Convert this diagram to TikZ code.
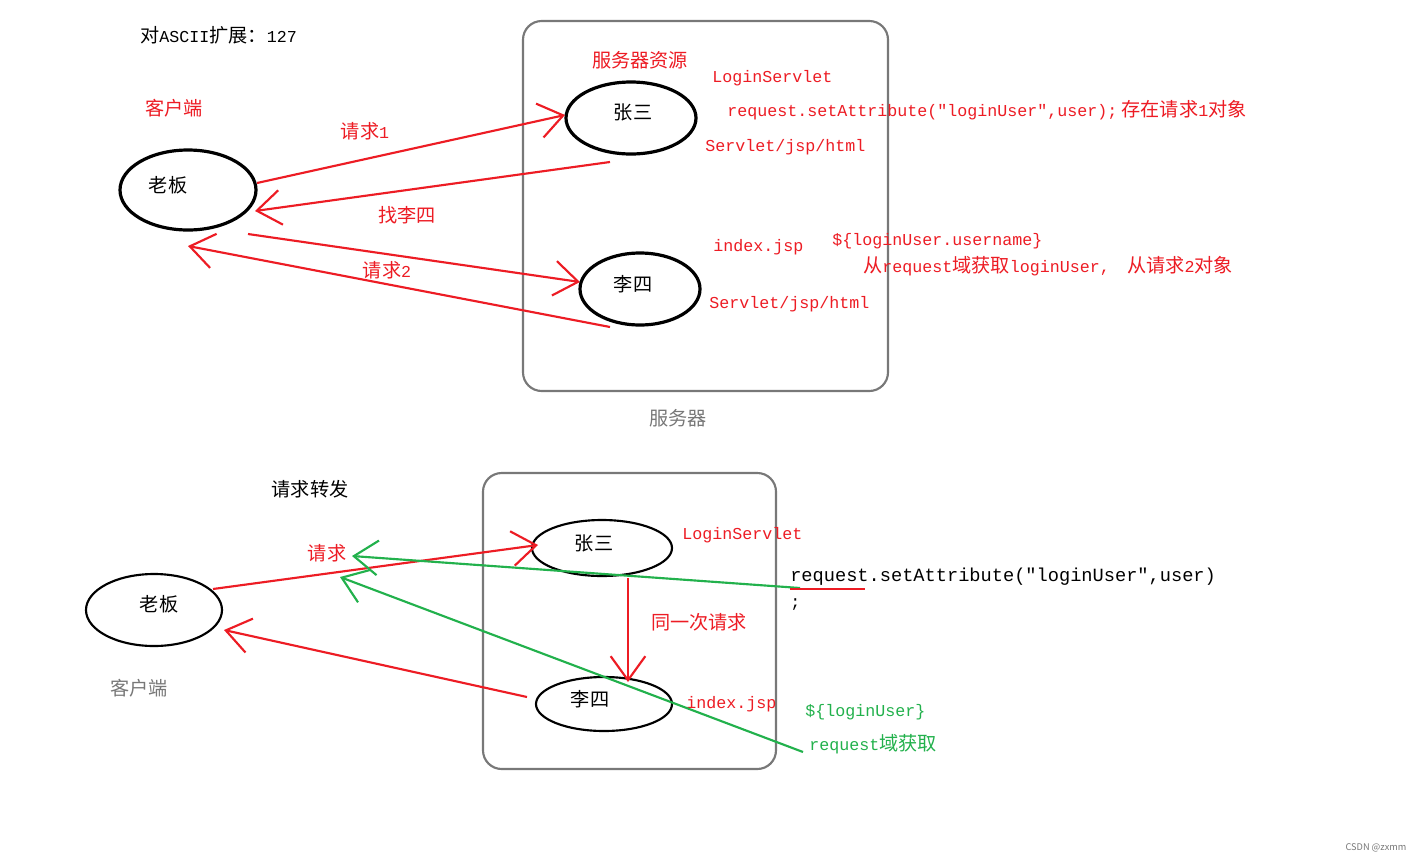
\documentclass[tikz,border=0pt]{standalone}
\usepackage{fontspec}
\setmainfont[Scale=1.15]{Noto Sans CJK SC}
\newfontfamily\lm{Liberation Mono}
\newcommand{\lt}[1]{{\lm #1}}
\usetikzlibrary{arrows.meta}
\definecolor{rd}{RGB}{237,28,36}
\definecolor{gn}{RGB}{34,177,76}
\definecolor{gy}{RGB}{120,120,120}
\tikzset{
 lbl/.style={font=\fontsize{12.5}{14}\selectfont,inner sep=0pt},
 rl/.style={lbl,text=rd},
 ar/.style={draw=rd,line width=1.6pt,-{Straight Barb[length=18pt,width=26pt,line width=1.6pt]}},
 ga/.style={draw=gn,line width=1.6pt,-{Straight Barb[length=18pt,width=26pt,line width=1.6pt]}},
 box/.style={draw=gy,line width=1.6pt,rounded corners=14pt}
}
\begin{document}
\begin{tikzpicture}[x=0.75pt,y=-0.75pt]
\useasboundingbox[fill=white] (0,0) rectangle (1421,861);
% top
\node[lbl,anchor=west] (t1) at (140,35) {对\lt{ASCII}扩展：\lt{127}};
\draw[box] (523,21) rectangle (888,391);
\node[rl] (res) at (640,60) {服务器资源};
\node[rl,anchor=west] (ls1) at (712,78) {\lt{LoginServlet}};
\draw[line width=2.4pt] (631,118) ellipse [x radius=65,y radius=36];
\node[lbl] (zs1) at (633,112) {张三};
\node[rl,anchor=west] (rq1) at (727,110) {\lt{request.setAttribute("loginUser",user);} 存在请求\lt{1}对象};
\node[rl,anchor=west] (sv1) at (705,147) {\lt{Servlet/jsp/html}};
\node[rl] (kh1) at (174,108) {客户端};
\draw[line width=2.4pt] (188,190) ellipse [x radius=68,y radius=40];
\node[lbl] (lb1) at (168,185) {老板};
\node[rl] (q1) at (365,131) {请求\lt{1}};
\coordinate (a1s) at (257,183); \coordinate (a1e) at (565,115);
\draw[ar] (a1s) -- (a1e);
\coordinate (a2s) at (610,162); \coordinate (a2e) at (255,211);
\draw[ar] (a2s) -- (a2e);
\node[rl] (zl) at (407,215) {找李四};
\coordinate (a3s) at (248,234); \coordinate (a3e) at (580,282);
\draw[ar] (a3s) -- (a3e);
\node[rl] (q2) at (387,270) {请求\lt{2}};
\coordinate (a4s) at (610,327); \coordinate (a4e) at (188,246);
\draw[ar] (a4s) -- (a4e);
\draw[line width=2.4pt] (640,289) ellipse [x radius=60,y radius=36];
\node[lbl] (ls) at (633,284) {李四};
\node[rl,anchor=west] (ij1) at (713,247) {\lt{index.jsp}};
\node[rl,anchor=west] (un) at (832,241) {\lt{\$\{loginUser.username\}}};
\node[rl,anchor=west] (fr) at (863,266) {从\lt{request}域获取\lt{loginUser,}\ \ \ \ 从请求\lt{2}对象};
\node[rl,anchor=west] (sv2) at (709,304) {\lt{Servlet/jsp/html}};
\node[lbl,text=gy] (fw1) at (678,418) {服务器};
% bottom
\node[lbl] (zf) at (310,489) {请求转发};
\draw[box] (483,473) rectangle (776,769);
\draw[line width=1.6pt] (602,548) ellipse [x radius=70,y radius=28];
\node[lbl] (zs2) at (594,543) {张三};
\node[rl,anchor=west] (ls2) at (682,535) {\lt{LoginServlet}};
\draw[line width=1.6pt] (604,704) ellipse [x radius=68,y radius=27];
\node[lbl] (li2) at (590,699) {李四};
\node[rl,anchor=west] (ij2) at (686,704) {\lt{index.jsp}};
\draw[line width=1.6pt] (154,610) ellipse [x radius=68,y radius=36];
\node[lbl] (lb2) at (159,604) {老板};
\node[lbl,text=gy] (kh2) at (139,688) {客户端};
\node[rl] (qq) at (327,553) {请求};
\coordinate (b1s) at (213,589); \coordinate (b1e) at (538,545);
\draw[ar] (b1s) -- (b1e);
\coordinate (b2s) at (628,578); \coordinate (b2e) at (628,682);
\draw[ar] (b2s) -- (b2e);
\node[rl] (ty) at (699,622) {同一次请求};
\coordinate (b3s) at (527,697); \coordinate (b3e) at (224,630);
\draw[ar] (b3s) -- (b3e);
\coordinate (g1s) at (800,588); \coordinate (g1e) at (352,556);
\draw[ga] (g1s) -- (g1e);
\coordinate (g2s) at (803,752); \coordinate (g2e) at (340,577);
\draw[ga] (g2s) -- (g2e);
\node[lbl,anchor=west,font=\fontsize{14}{16}\selectfont] (sa) at (790,577) {\lt{request.setAttribute("loginUser",user)}};
\node[lbl,anchor=west] (sc) at (790,605) {\lt{;}};
\coordinate (u1) at (790,589); \coordinate (u2) at (865,589);
\draw[rd,line width=1.6pt] (u1) -- (u2);
\node[lbl,anchor=west,text=gn] (lu) at (805,712) {\lt{\$\{loginUser\}}};
\node[lbl,anchor=west,text=gn] (rg) at (809,744) {\lt{request}域获取};
\node[inner sep=0pt,text=gy,font=\fontsize{6}{7}\selectfont] (cs) at (1376,848) {CSDN @zxmm};
\end{tikzpicture}
\end{document}
